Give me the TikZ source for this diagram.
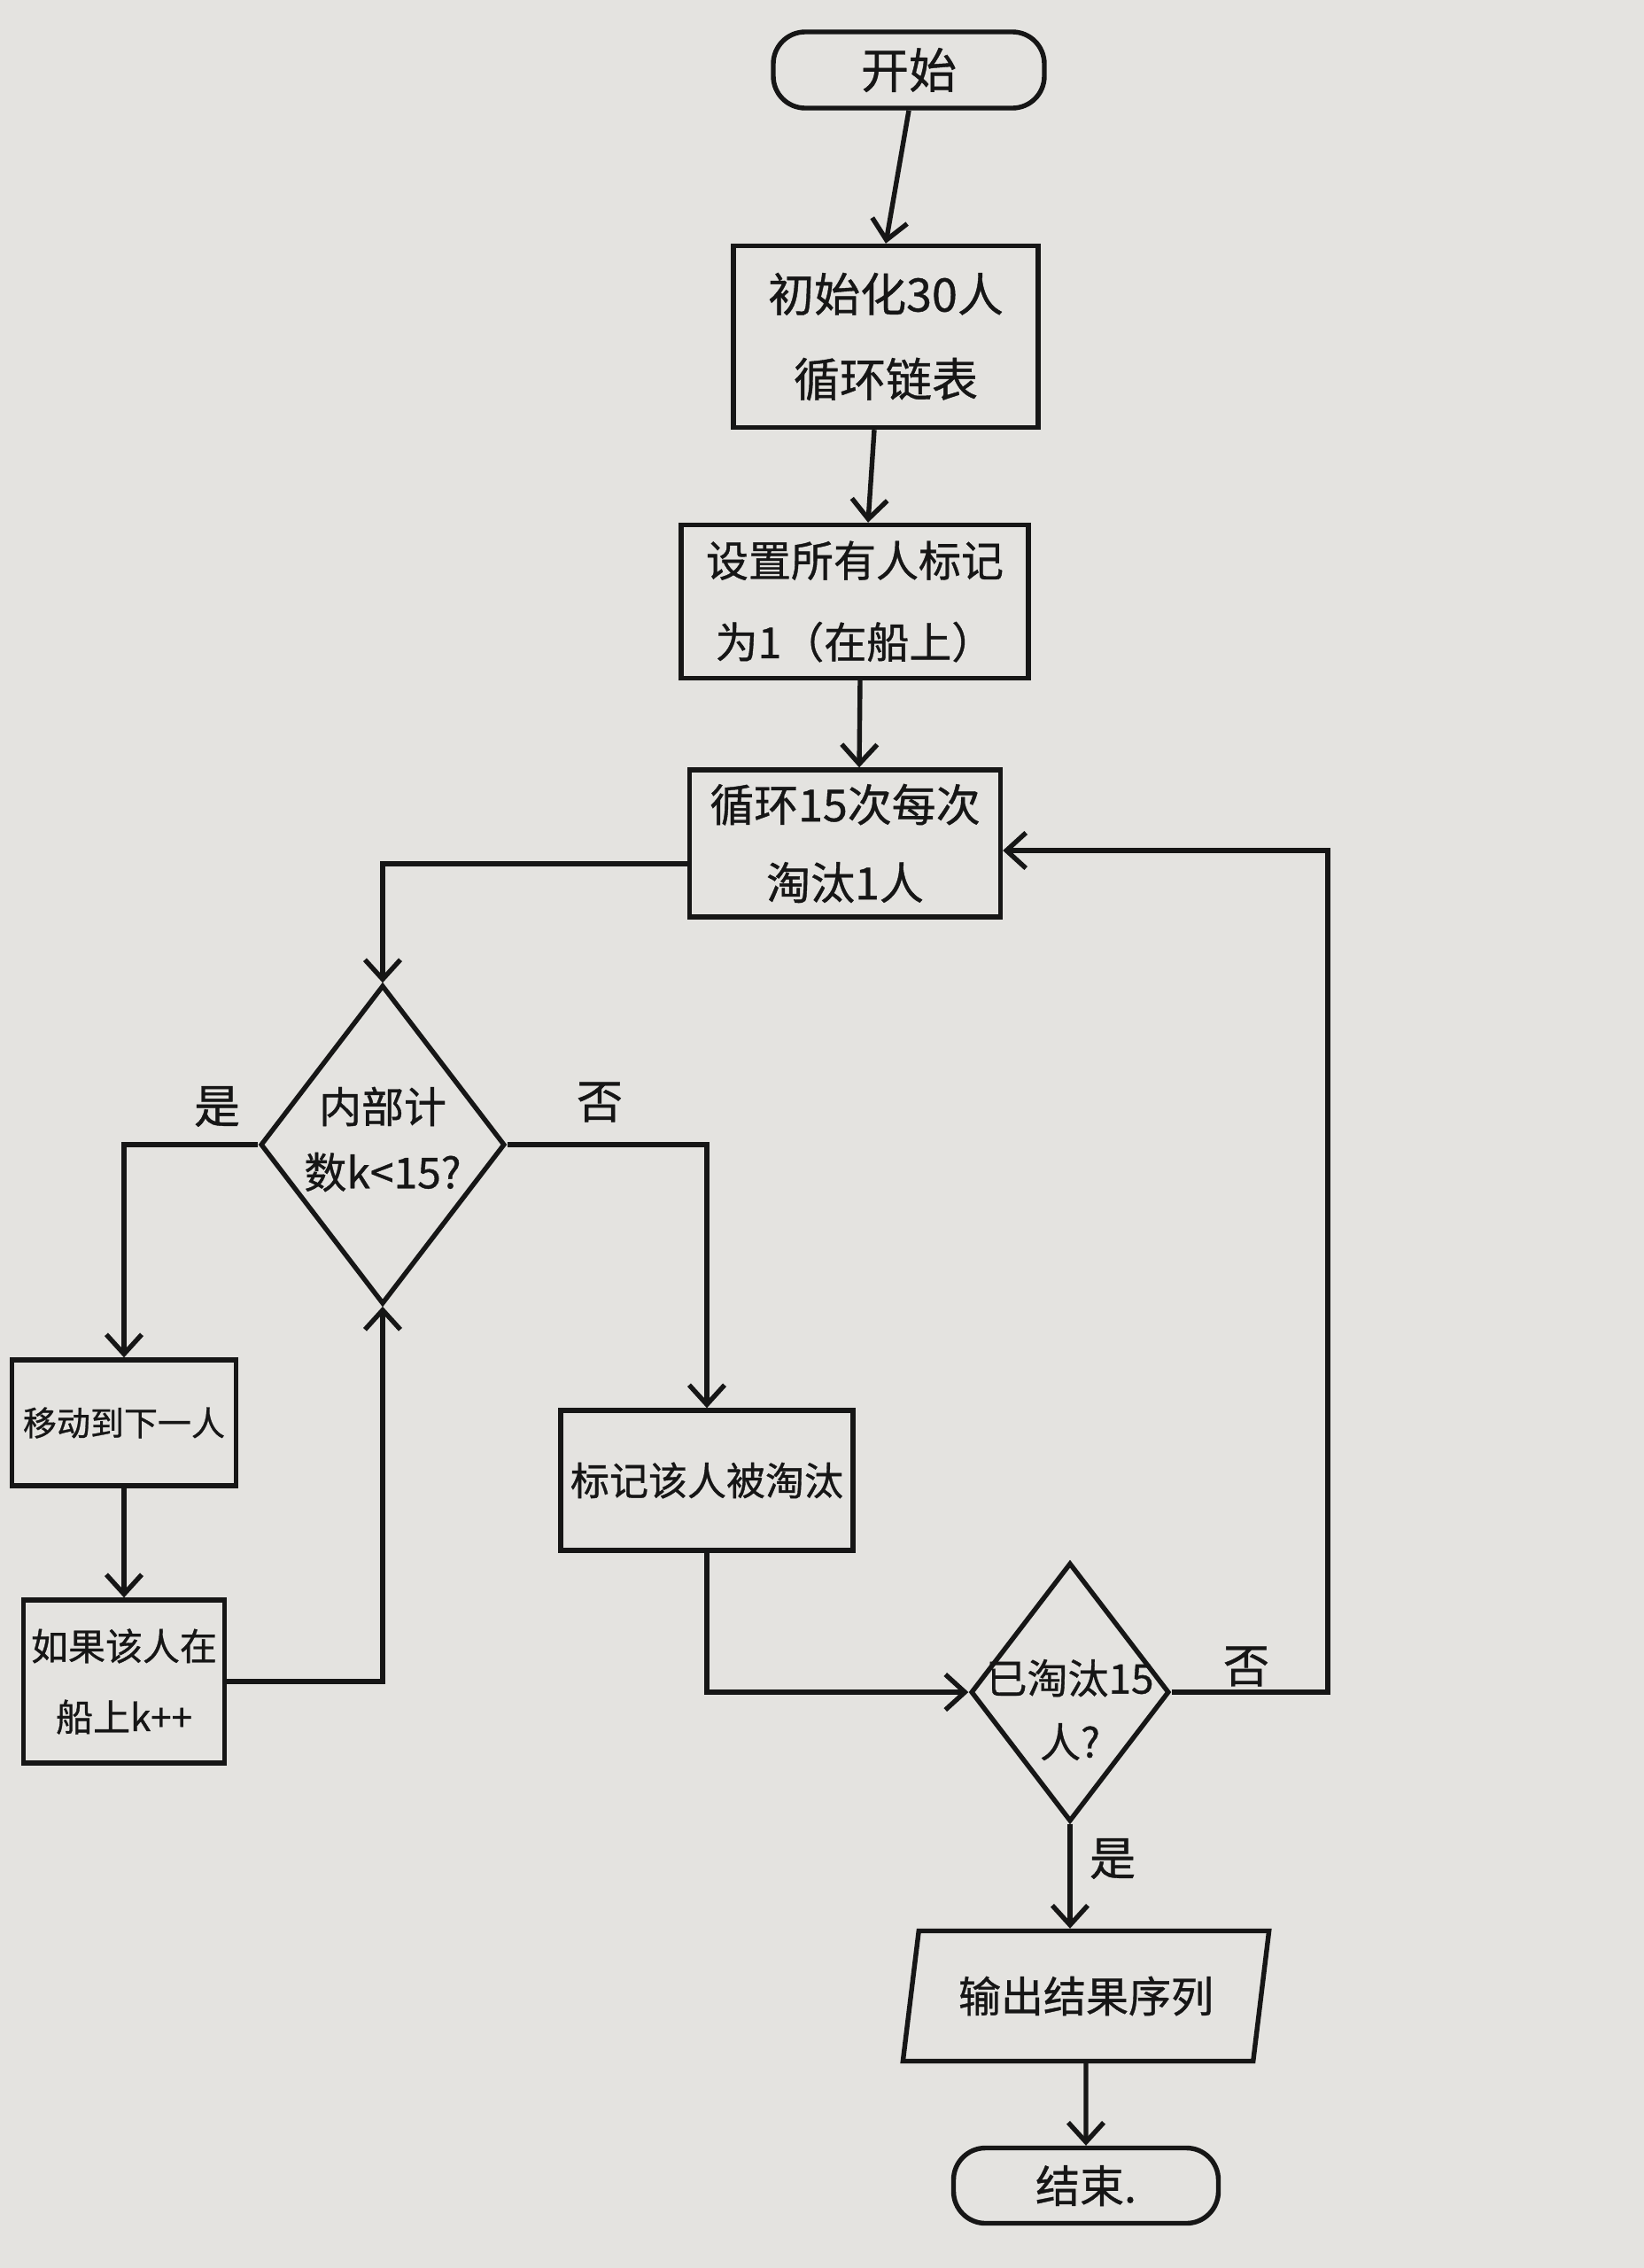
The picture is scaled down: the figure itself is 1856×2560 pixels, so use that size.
\documentclass[tikz,border=0pt]{standalone}
\usepackage{fontspec}
\newfontfamily\cjk[FakeBold=0.8]{Noto Sans CJK SC}
\usetikzlibrary{shapes.geometric,arrows.meta}
\definecolor{paper}{RGB}{228,227,224}
\definecolor{ink}{RGB}{22,22,22}
\begin{document}
\begin{tikzpicture}[x=0.5pt,y=-0.5pt,
  box/.style={draw=ink,line width=2.7pt,rectangle,align=center,inner sep=0pt,text=ink,font=\cjk\fontsize{24}{46}\selectfont},
  term/.style={box,rounded corners=18pt},
  dec/.style={draw=ink,line width=2.7pt,diamond,inner sep=0pt},
  dtext/.style={align=center,inner sep=0pt,text=ink,font=\cjk\fontsize{24}{37}\selectfont},
  io/.style={draw=ink,line width=2.7pt,trapezium,trapezium left angle=73,trapezium right angle=107,trapezium stretches=true,align=center,inner sep=0pt,text=ink,font=\cjk\fontsize{24}{46}\selectfont},
  arr/.style={draw=ink,line width=2.7pt,-{Straight Barb[length=11pt,width=20pt]}},
  lbl/.style={font=\cjk\fontsize{26}{26}\selectfont,text=ink}]
\fill[paper] (0,0) rectangle (1856,2560);
\useasboundingbox (0,0) rectangle (1856,2560);

\node[term,minimum width=153pt,minimum height=43pt,font=\cjk\fontsize{27}{46}\selectfont] (start) at (1026,79) {开始};
\node[box,minimum width=172pt,minimum height=102.5pt,font=\cjk\fontsize{26}{48}\selectfont] (init) at (1000,380) {初始化30人\\循环链表};
\node[box,minimum width=196pt,minimum height=86.5pt] (setb) at (965,679) {设置所有人标记\\为1（在船上）};
\node[box,minimum width=175.5pt,minimum height=83pt,font=\cjk\fontsize{25}{44}\selectfont] (loop) at (954,952) {循环15次每次\\淘汰1人};
\node[dec,minimum width=138pt,minimum height=180pt] (d1) at (432,1292) {};
\node[dtext] (d1t) at (432,1286) {内部计\\数k<15?};
\node[box,minimum width=126.5pt,minimum height=71pt,font=\cjk\fontsize{19}{30}\selectfont] (move) at (140,1606) {移动到下一人};
\node[box,minimum width=113.5pt,minimum height=92pt,font=\cjk\fontsize{21}{40}\selectfont] (ifon) at (140,1898) {如果该人在\\船上k++};
\node[box,minimum width=165pt,minimum height=79pt,font=\cjk\fontsize{22}{40}\selectfont] (mark) at (798,1671) {标记该人被淘汰};
\node[dec,minimum width=112pt,minimum height=146pt] (d2) at (1208,1910) {};
\node[dtext,font=\cjk\fontsize{23}{36}\selectfont] (d2t) at (1208,1930) {已淘汰15\\人?};
\node[io,minimum width=207pt,minimum height=73.5pt] (out) at (1226,2253) {输出结果序列};
\node[term,minimum width=149.5pt,minimum height=42.5pt,font=\cjk\fontsize{25}{46}\selectfont] (end) at (1226,2467) {结束.};

\node[lbl] (l1) at (245,1249) {是};
\node[lbl] (l2) at (677,1244) {否};
\node[lbl] (l3) at (1407,1881) {否};
\node[lbl] (l4) at (1256,2098) {是};

\coordinate (rt) at (1499,960);

\draw[arr] (start.south) -- (init.north);
\draw[arr] ([xshift=-6.5pt]init.south) -- ([xshift=7.5pt]setb.north);
\draw[arr] ([xshift=3pt]setb.south) -- ([xshift=8pt]loop.north);
\draw[arr] ([yshift=-11.5pt]loop.west) -| (d1.north);
\draw[arr] (d1.west) -| (move.north);
\draw[arr] (move.south) -- (ifon.north);
\draw[arr] (ifon.east) -| (d1.south);
\draw[arr] (d1.east) -| (mark.north);
\draw[arr] (mark.south) |- (d2.west);
\draw[arr] (d2.east) -- (d2.east -| rt) -- (rt) -- ([yshift=-4pt]loop.east);
\draw[arr] (d2.south) -- (d2.south |- out.north);
\draw[arr] (out.south) -- (end.north);
\end{tikzpicture}
\end{document}
